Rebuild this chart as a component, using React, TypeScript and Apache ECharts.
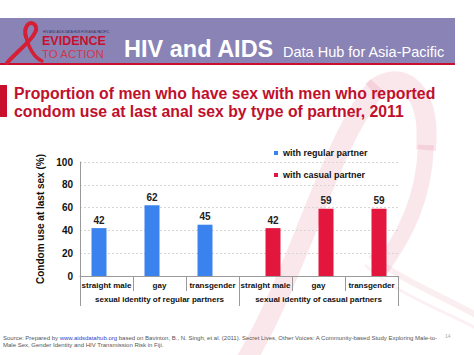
import React, { useEffect, useRef } from "react";
import * as echarts from "echarts";

const categories = ["straight male", "gay", "transgender", "straight male", "gay", "transgender"];
const groups = ["sexual identity of regular partners", "sexual identity of casual partners"];
const regularValues: (number | string)[] = [42, 62, 45, "-", "-", "-"];
const casualValues: (number | string)[] = ["-", "-", "-", 42, 59, 59];
const seriesNames = ["with regular partner", "with casual partner"];

const FONT = "Liberation Sans, Arial, Helvetica, sans-serif";

export default function App() {
  const ref = useRef<HTMLDivElement>(null);
  useEffect(() => {
    if (!ref.current) return;
    const chart = echarts.init(ref.current, null, { renderer: "svg" });
    const ribbon = "rgba(205,40,80,0.11)";
    chart.setOption({
      animation: false,
      backgroundColor: "#ffffff",
      textStyle: { fontFamily: FONT },
      grid: { left: 80, right: 76, top: 162, bottom: 79, containLabel: false },
      legend: {
        orient: "vertical",
        left: 274,
        top: 148,
        padding: 0,
        itemWidth: 4,
        itemHeight: 4,
        itemGap: 12,
        icon: "rect",
        data: seriesNames,
        textStyle: { fontSize: 9, fontWeight: "bold", color: "#111", lineHeight: 10, fontFamily: FONT },
      },
      xAxis: [
        {
          type: "category",
          data: categories,
          axisLine: { show: true, lineStyle: { color: "#9a9a9a", width: 1 } },
          axisTick: { show: true, length: 15, interval: 0, lineStyle: { color: "#9a9a9a" } },
          axisLabel: { interval: 0, margin: 5, fontSize: 8, fontWeight: "bold", color: "#111", fontFamily: FONT },
        },
        {
          type: "category",
          data: groups,
          position: "bottom",
          offset: 15,
          axisLine: { show: false },
          axisTick: { show: true, length: 15, interval: 0, lineStyle: { color: "#9a9a9a" } },
          axisLabel: { interval: 0, margin: 4, fontSize: 8, fontWeight: "bold", color: "#111", fontFamily: FONT },
        },
      ],
      yAxis: {
        type: "value",
        min: 0,
        max: 100,
        interval: 20,
        name: "Condom use at last sex (%)",
        nameLocation: "middle",
        nameGap: 31,
        nameTextStyle: { fontSize: 10, fontWeight: "bold", color: "#111", fontFamily: FONT },
        axisLine: { show: true, lineStyle: { color: "#9a9a9a" } },
        axisTick: { show: false },
        axisLabel: { fontSize: 10, fontWeight: "bold", color: "#111", margin: 7, fontFamily: FONT },
        splitLine: { show: true, lineStyle: { color: "#d6d6d6", type: [2, 2], width: 1 } },
      },
      series: [
        {
          name: seriesNames[0],
          type: "bar",
          data: regularValues,
          barWidth: 15,
          barGap: "0%",
          itemStyle: { color: "#3a82ee" },
          label: { show: true, position: "top", distance: 3, fontSize: 10, fontWeight: "bold", color: "#222", fontFamily: FONT },
        },
        {
          name: seriesNames[1],
          type: "bar",
          data: casualValues,
          barWidth: 15,
          barGap: "0%",
          itemStyle: { color: "#e3173e" },
          label: { show: true, position: "top", distance: 3, fontSize: 10, fontWeight: "bold", color: "#222", fontFamily: FONT },
        },
      ],
      graphic: [
        // background ribbon
        {
          type: "group",
          z: -10,
          silent: true,
          children: [
            { type: "bezierCurve", shape: { x1: 245, y1: 362, cpx1: 300, cpy1: 270, cpx2: 330, cpy2: 140, x2: 378, y2: 86 }, style: { stroke: ribbon, lineWidth: 20, fill: "none" } },
            { type: "bezierCurve", shape: { x1: 372, y1: 91, cpx1: 398, cpx2: 432, cpy1: 68, cpy2: 85, x2: 426, y2: 150 }, style: { stroke: ribbon, lineWidth: 20, fill: "none" } },
            { type: "bezierCurve", shape: { x1: 426, y1: 145, cpx1: 424, cpy1: 200, cpx2: 405, cpy2: 235, x2: 380, y2: 270 }, style: { stroke: ribbon, lineWidth: 16, fill: "none" } },
            { type: "bezierCurve", shape: { x1: 370, y1: 255, cpx1: 400, cpy1: 280, cpx2: 440, cpy2: 295, x2: 476, y2: 315 }, style: { stroke: "rgba(205,40,80,0.08)", lineWidth: 6, fill: "none" } },
            { type: "bezierCurve", shape: { x1: 365, y1: 265, cpx1: 395, cpy1: 292, cpx2: 430, cpy2: 305, x2: 476, y2: 328 }, style: { stroke: "rgba(205,40,80,0.07)", lineWidth: 3, fill: "none" } },
          ],
        },
        // header bar
        { type: "rect", shape: { x: 0, y: 18, width: 455, height: 45 }, style: { fill: "#8a83b6" }, z: 1 },
        { type: "rect", shape: { x: 0, y: 63, width: 455, height: 2 }, style: { fill: "#c8102e" }, z: 1 },
        // logo ribbon
        { type: "bezierCurve", z: 2, shape: { x1: 7, y1: 63, cpx1: 18, cpy1: 50, cpx2: 42, cpy2: 33, x2: 35, y2: 25 }, style: { stroke: "#d41f35", lineWidth: 4, fill: "none", lineCap: "round" } },
        { type: "bezierCurve", z: 2, shape: { x1: 35, y1: 25, cpx1: 30, cpy1: 19, cpx2: 23, cpy2: 27, x2: 26, y2: 37 }, style: { stroke: "#d41f35", lineWidth: 4, fill: "none", lineCap: "round" } },
        { type: "bezierCurve", z: 2, shape: { x1: 26, y1: 37, cpx1: 29, cpy1: 48, cpx2: 33, cpy2: 57, x2: 42, y2: 61 }, style: { stroke: "#d41f35", lineWidth: 3.5, fill: "none", lineCap: "round" } },
        { type: "text", z: 2, style: { text: "HIV AND AIDS DATA HUB FOR ASIA-PACIFIC", x: 43, y: 32, fontSize: 3.2, fill: "#3a2a50", fontFamily: FONT, verticalAlign: "middle" } },
        { type: "text", z: 2, style: { text: "EVIDENCE", x: 42, y: 41, fontSize: 12.5, fontWeight: "bold", fill: "#c8102e", fontFamily: FONT, verticalAlign: "middle" } },
        { type: "text", z: 2, style: { text: "TO ACTION", x: 42, y: 53.5, fontSize: 11.5, fill: "#d0384e", fontFamily: FONT, verticalAlign: "middle" } },
        { type: "text", z: 2, style: { text: "HIV and AIDS", x: 124, y: 48.5, fontSize: 23.5, fontWeight: "bold", fill: "#ffffff", fontFamily: FONT, verticalAlign: "middle" } },
        { type: "text", z: 2, style: { text: "Data Hub for Asia-Pacific", x: 283, y: 51.5, fontSize: 14.5, fill: "#ffffff", fontFamily: FONT, verticalAlign: "middle" } },
        // title
        { type: "rect", z: 2, shape: { x: 0, y: 85, width: 7, height: 32 }, style: { fill: "#c8102e" } },
        { type: "text", z: 2, style: { text: "Proportion of men who have sex with men who reported\ncondom use at last anal sex by type of partner, 2011", x: 14, y: 84, fontSize: 15.8, lineHeight: 18, fontWeight: "bold", fill: "#c0102c", fontFamily: FONT, verticalAlign: "top" } },
        // source
        {
          type: "text",
          z: 2,
          style: {
            text: "Source: Prepared by {l|www.aidsdatahub.org} based on Bavinton, B., N. Singh, et al. (2011). Secret Lives, Other Voices: A Community-based Study Exploring Male-to-\nMale Sex, Gender Identity and HIV Transmission Risk in Fiji.",
            x: 3,
            y: 334,
            fontSize: 6,
            lineHeight: 7,
            fill: "#555555",
            fontFamily: FONT,
            verticalAlign: "top",
            rich: { l: { fill: "#2a47d0", fontSize: 6, fontFamily: FONT } },
          },
        },
        { type: "text", z: 2, style: { text: "14", x: 445, y: 336, fontSize: 5, fill: "#aaaaaa", fontFamily: FONT, verticalAlign: "middle" } },
      ],
    });
    return () => chart.dispose();
  }, []);
  return <div ref={ref} style={{ position: "fixed", left: 0, top: 0, width: 474, height: 355 }} />;
}
